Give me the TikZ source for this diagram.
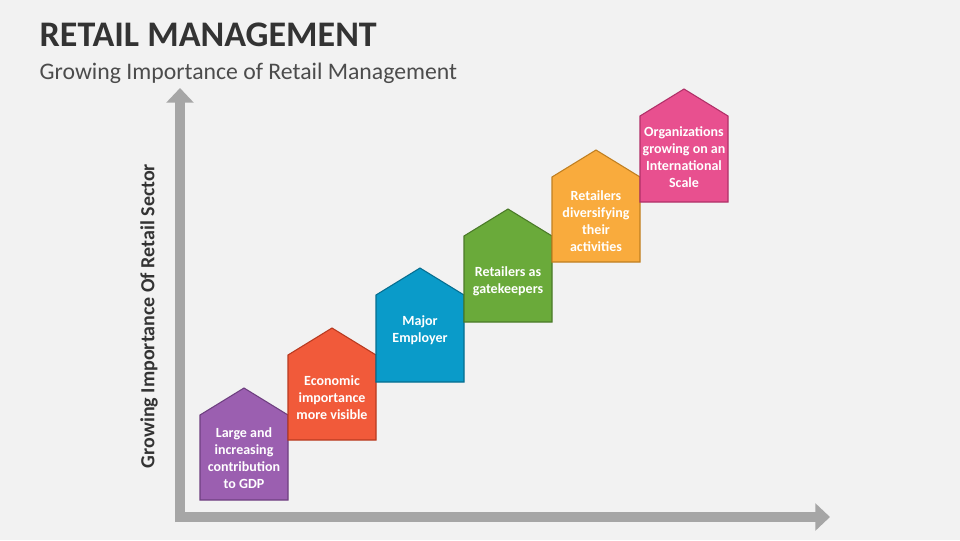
\documentclass[tikz,border=0pt]{standalone}
\usepackage{fontspec}
\setmainfont{Carlito}
\usetikzlibrary{arrows.meta}
\definecolor{bg}{HTML}{F2F2F2}
\definecolor{axisc}{HTML}{A6A6A6}
\definecolor{cpu}{HTML}{9B5FB0}\definecolor{dpu}{HTML}{6E3F80}
\definecolor{cor}{HTML}{F15A3A}\definecolor{dor}{HTML}{B83A20}
\definecolor{cbl}{HTML}{0A9BC9}\definecolor{dbl}{HTML}{066E90}
\definecolor{cgr}{HTML}{6AAA3A}\definecolor{dgr}{HTML}{4A7A28}
\definecolor{cye}{HTML}{F9AB3D}\definecolor{dye}{HTML}{C07F20}
\definecolor{cpi}{HTML}{E8508F}\definecolor{dpi}{HTML}{B03068}
\tikzset{
  axisline/.style={draw=axisc,line width=7pt,-{Triangle[length=11pt,width=20pt]}},
  house/.style={line width=0.8pt},
  htext/.style={text=white,align=center,font=\fontsize{10.5}{12.8}\selectfont\bfseries}
}
\newcommand{\house}[5]{% x, apex y, bottom y, fill, draw
  \filldraw[house,fill=#4,draw=#5] (#1,#3) -- (#1+88,#3) -- (#1+88,#2+27) -- (#1+44,#2) -- (#1,#2+27) -- cycle;}
\begin{document}
\begin{tikzpicture}[x=0.75pt,y=-0.75pt]
\fill[bg] (0,0) rectangle (960,540);
\useasboundingbox (0,0) rectangle (960,540);
\node[anchor=west,font=\fontsize{27}{30}\selectfont\bfseries,text=black!80] (title) at (35,35) {RETAIL MANAGEMENT};
\node[anchor=west,font=\fontsize{17.8}{20}\selectfont,text=black!70] (sub) at (35,73) {Growing Importance of Retail Management};
\coordinate (o) at (180,522);
\coordinate (ytop) at (180,88);
\coordinate (o2) at (175,517);
\coordinate (xend) at (830,517);
\draw[axisline] (o) -- (ytop);
\draw[axisline] (o2) -- (xend);
\node[rotate=90,font=\fontsize{15}{17}\selectfont\bfseries,text=black!80] (ylab) at (149,316) {Growing Importance Of Retail Sector};
\house{200}{388}{500}{cpu}{dpu}
\house{288}{328}{440}{cor}{dor}
\house{376}{268}{382}{cbl}{dbl}
\house{464}{209}{322}{cgr}{dgr}
\house{552}{150}{262}{cye}{dye}
\house{640}{89}{202}{cpi}{dpi}
\node[htext] (t1) at (244,458) {Large and\\increasing\\contribution\\to GDP};
\node[htext] (t2) at (332,398) {Economic\\importance\\more visible};
\node[htext] (t3) at (420,330) {Major\\Employer};
\node[htext] (t4) at (508,281) {Retailers as\\gatekeepers};
\node[htext] (t5) at (596,221) {Retailers\\diversifying\\their\\activities};
\node[htext] (t6) at (684,157) {Organizations\\growing on an\\International\\Scale};
\end{tikzpicture}
\end{document}
